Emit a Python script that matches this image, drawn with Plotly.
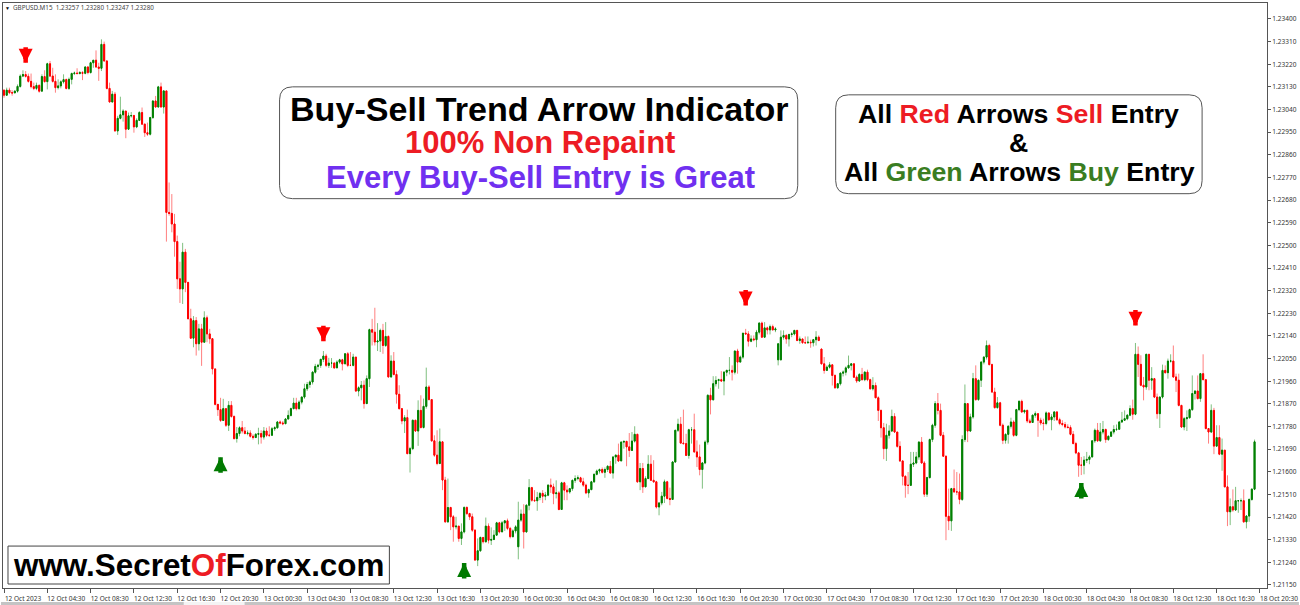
import plotly.graph_objects as go

# ---- data: prices in points above 1.20000 (1 point = 0.00001) ----
closes = [
3097,3117,3107,3106,3113,3132,3173,3179,3172,3152,3131,3124,3136,3113,3171,3151,3222,3173,3152,3127,
3134,3150,3159,3124,3160,3183,3185,3183,3187,3184,3209,3187,3226,3236,3209,3204,3299,3233,3124,3070,
3101,2955,3005,3019,3034,2962,3015,3016,2971,2997,3028,2982,2948,2942,3008,3074,3050,3130,3050,3114,
2631,2627,2585,2515,2367,2327,2473,2353,2208,2131,2201,2109,2168,2115,2212,2148,2129,2009,1868,1847,
1804,1851,1785,1864,1820,1732,1752,1775,1762,1752,1754,1741,1736,1749,1752,1738,1762,1745,1745,1771,
1775,1798,1794,1791,1810,1824,1851,1873,1851,1877,1897,1930,1947,1957,1996,2019,2023,2047,2060,2023,
2032,2032,2013,2036,2045,2029,2069,2023,2023,2056,1921,1934,1944,1871,1970,2165,2155,2116,2120,2162,
2102,2138,1977,2040,1987,1908,1851,1802,1815,1672,1692,1805,1762,1844,1776,1860,1937,1887,1723,1666,
1633,1719,1567,1401,1458,1421,1381,1384,1335,1361,1458,1434,1421,1368,1249,1286,1339,1322,1384,1328,
1331,1348,1397,1361,1397,1405,1375,1342,1365,1381,1408,1432,1361,1467,1537,1487,1485,1498,1514,1503,
1507,1547,1540,1513,1516,1450,1556,1527,1520,1533,1566,1573,1576,1560,1547,1516,1529,1560,1590,1603,
1609,1598,1609,1622,1595,1659,1666,1643,1718,1721,1699,1685,1722,1749,1560,1613,1540,1573,1630,1566,
1560,1460,1476,1503,1560,1494,1490,1639,1765,1789,1714,1712,1665,1767,1767,1679,1659,1609,1635,1718,
1904,1886,1950,1963,1966,1961,1996,2003,2003,1996,2080,2036,2056,2151,2148,2119,2128,2125,2155,2191,
2135,2172,2164,2177,2164,2168,2109,2135,2142,2128,2146,2148,2162,2122,2128,2113,2113,2115,2113,2125,
2135,2122,2029,2003,2016,2025,1983,1934,1950,1992,1996,2013,2023,2029,1976,1961,1987,1966,1996,1966,
1930,1943,1894,1844,1775,1692,1745,1762,1820,1758,1701,1643,1582,1546,1546,1630,1635,1659,1718,1635,
1511,1577,1728,1785,1871,1844,1745,1662,1423,1405,1533,1520,1520,1490,1728,1871,1762,1818,1970,1887,
1964,2036,2056,2102,2026,1917,1855,1874,1785,1725,1749,1781,1798,1745,1847,1880,1838,1844,1802,1796,
1825,1831,1805,1794,1792,1834,1807,1818,1838,1807,1792,1788,1778,1776,1749,1712,1675,1626,1626,1646,
1649,1659,1723,1765,1723,1758,1768,1728,1741,1758,1768,1769,1798,1805,1811,1825,1851,1829,2067,2027,
1944,1937,2067,1964,1970,1897,1831,1897,2003,1994,2040,2040,1977,1964,1864,1778,1811,1815,1847,1911,
1921,1891,1990,1966,1772,1758,1844,1702,1736,1670,1686,1540,1441,1461,1448,1485,1485,1485,1401,1424,
1490,1531,1719]

highs = [
3120,3127,3127,3117,3117,3140,3180,3196,3193,3183,3183,3147,3147,3140,3180,3196,3226,3233,3206,3180,
3160,3156,3180,3163,3167,3187,3191,3204,3193,3193,3213,3213,3230,3236,3275,3226,3319,3310,3236,3147,
3114,3110,3015,3091,3041,3032,3028,3030,3019,3005,3034,3048,2984,2988,3011,3077,3094,3134,3147,3117,
3114,2750,2704,2625,2539,2435,2510,2486,2353,2248,2219,2215,2188,2188,2238,2221,2168,2131,2007,1868,
1894,1890,1851,1881,1881,1824,1778,1781,1802,1778,1765,1765,1749,1754,1775,1765,1778,1775,1781,1778,
1781,1802,1804,1802,1812,1844,1855,1894,1894,1884,1900,1950,1957,1963,2000,2029,2029,2049,2080,2069,
2053,2052,2036,2043,2049,2049,2072,2076,2076,2069,2049,1940,1961,1963,1983,2169,2208,2252,2191,2169,
2188,2195,2142,2063,2076,2003,1944,1851,1825,1847,1699,1807,1802,1884,1904,1891,2014,1944,1887,1745,
1765,1772,1719,1580,1573,1461,1428,1421,1384,1395,1463,1463,1437,1434,1371,1335,1342,1339,1418,1395,
1379,1368,1401,1401,1404,1408,1414,1381,1371,1388,1481,1450,1471,1471,1571,1540,1527,1520,1520,1527,
1520,1550,1573,1553,1566,1523,1560,1560,1546,1536,1569,1586,1586,1580,1576,1553,1533,1564,1593,1609,
1613,1617,1617,1626,1643,1661,1669,1712,1721,1721,1705,1754,1758,1781,1751,1635,1635,1582,1666,1666,
1646,1564,1480,1520,1569,1564,1537,1642,1767,1811,1818,1847,1751,1771,1778,1831,1725,1708,1639,1725,
1908,1934,1980,1980,1970,2000,2000,2006,2056,2023,2082,2089,2062,2151,2168,2159,2142,2142,2164,2195,
2197,2195,2177,2185,2185,2175,2109,2162,2162,2148,2148,2155,2164,2164,2138,2128,2138,2138,2125,2128,
2159,2142,2089,2056,2023,2036,2027,1987,1953,1995,2003,2019,2062,2032,2032,1983,1992,2013,2000,2006,
1970,1976,1955,1900,1847,1794,1791,1785,1847,1833,1758,1721,1646,1586,1599,1679,1679,1679,1722,1738,
1643,1580,1732,1791,1881,1913,1871,1758,1664,1533,1536,1609,1599,1593,1745,1947,1873,1831,1993,2023,
1966,2040,2059,2122,2109,2030,1934,1897,1878,1792,1752,1785,1815,1805,1850,1884,1887,1847,1847,1811,
1827,1840,1818,1815,1811,1840,1831,1829,1840,1840,1815,1805,1798,1789,1785,1762,1719,1679,1659,1662,
1679,1666,1725,1772,1794,1794,1802,1772,1745,1762,1785,1788,1802,1838,1844,1829,1864,1887,2112,2098,
2063,1977,2069,2067,2016,1973,1911,1900,2026,2023,2050,2067,2102,1990,1990,1864,1818,1844,1851,1983,
1924,1983,1993,2067,1966,1774,1868,1854,1785,1785,1732,1683,1586,1494,1530,1540,1487,1494,1530,1428,
1494,1534,1728]

lows = [
3087,3094,3101,3095,3106,3107,3127,3169,3167,3147,3124,3117,3117,3107,3124,3147,3120,3169,3147,3107,
3120,3124,3143,3120,3118,3140,3177,3180,3180,3157,3180,3180,3183,3206,3206,3154,3193,3230,3120,3068,
3068,2952,2939,3001,2992,2926,2959,3008,2948,2966,2995,2979,2931,2935,2937,3003,3048,3048,3048,3024,
2515,2618,2552,2455,2327,2271,2267,2314,2208,2129,2095,2062,2082,2021,2115,2115,2109,1987,1864,1822,
1798,1802,1778,1762,1815,1728,1716,1741,1752,1749,1745,1736,1728,1736,1709,1712,1728,1738,1738,1758,
1762,1771,1789,1785,1794,1807,1820,1848,1844,1847,1868,1890,1921,1934,1947,1990,2005,2013,2036,2016,
2013,2013,2009,2019,2029,2003,2040,2016,2020,2019,1917,1900,1884,1851,1871,1937,2102,2102,2080,2076,
2069,2096,1974,1974,1983,1871,1847,1789,1754,1670,1597,1686,1758,1703,1772,1772,1851,1884,1719,1659,
1626,1630,1527,1397,1397,1368,1322,1371,1322,1309,1355,1428,1408,1361,1246,1225,1282,1315,1318,1315,
1309,1328,1348,1355,1361,1365,1368,1335,1339,1355,1252,1401,1295,1358,1447,1481,1481,1445,1487,1476,
1487,1503,1516,1471,1494,1447,1524,1487,1487,1513,1524,1556,1566,1556,1540,1511,1497,1527,1556,1586,
1593,1593,1576,1599,1593,1573,1632,1639,1643,1692,1622,1659,1683,1716,1556,1527,1516,1564,1576,1564,
1556,1454,1427,1467,1476,1490,1467,1490,1635,1758,1712,1709,1663,1652,1712,1675,1619,1586,1533,1630,
1708,1828,1884,1939,1930,1957,1904,1980,1987,1963,1987,1990,2036,2049,2146,2098,2115,2119,2095,2146,
2133,2135,2146,2146,2162,2155,2023,2043,2125,2109,2098,2135,2142,2119,2109,2109,2109,2109,2093,2098,
2102,2119,2027,1990,2003,2010,1943,1930,1930,1943,1979,1983,2010,2003,1974,1953,1957,1963,1960,1960,
1926,1923,1894,1802,1736,1650,1643,1732,1758,1754,1696,1639,1546,1497,1511,1544,1619,1630,1648,1632,
1500,1500,1573,1718,1775,1828,1741,1659,1328,1368,1365,1516,1507,1471,1484,1718,1718,1758,1811,1882,
1882,1937,2027,2046,2023,1913,1851,1851,1781,1710,1712,1712,1772,1739,1741,1841,1834,1831,1794,1792,
1794,1815,1739,1785,1765,1785,1802,1765,1802,1802,1785,1781,1772,1772,1745,1710,1670,1580,1587,1590,
1635,1630,1657,1715,1719,1719,1749,1715,1723,1739,1749,1762,1768,1794,1802,1805,1821,1807,1825,1977,
1940,1884,1926,1924,1926,1893,1811,1774,1891,1990,1970,2034,1973,1917,1860,1774,1765,1762,1811,1842,
1887,1887,1878,1964,1768,1712,1754,1670,1699,1666,1604,1538,1384,1388,1441,1445,1437,1448,1397,1375,
1401,1485,1527]

# bars whose open does not sit at the previous close (session gaps and the first bar)
open_exceptions = {0: 3117, 190: 1302, 286: 2045, 287: 2045, 302: 2088}

time_labels = [
"12 Oct 2023", "12 Oct 04:30", "12 Oct 08:30", "12 Oct 12:30", "12 Oct 16:30", "12 Oct 20:30",
"13 Oct 00:30", "13 Oct 04:30", "13 Oct 08:30", "13 Oct 12:30", "13 Oct 16:30", "13 Oct 20:30",
"16 Oct 00:30", "16 Oct 04:30", "16 Oct 08:30", "16 Oct 12:30", "16 Oct 16:30", "16 Oct 20:30",
"17 Oct 00:30", "17 Oct 04:30", "17 Oct 08:30", "17 Oct 12:30", "17 Oct 16:30", "17 Oct 20:30",
"18 Oct 00:30", "18 Oct 04:30", "18 Oct 08:30", "18 Oct 12:30", "18 Oct 16:30", "18 Oct 20:30"]
price_ticks = [1.23400, 1.23310, 1.23220, 1.23130, 1.23040, 1.22950, 1.22860, 1.22770, 1.22680,
               1.22590, 1.22500, 1.22410, 1.22320, 1.22230, 1.22140, 1.22050, 1.21960, 1.21870,
               1.21780, 1.21690, 1.21600, 1.21510, 1.21420, 1.21330, 1.21240, 1.21150]

sell_bars = [8, 118, 274, 418]
sell_prices = [1.23226, 1.22119, 1.22261, 1.22181]
buy_bars = [80, 170, 398]
buy_prices = [1.21658, 1.21237, 1.21555]

header = "GBPUSD.M15  1.23257 1.23280 1.23247 1.23280"
title_lines = ["Buy-Sell Trend Arrow Indicator", "100% Non Repaint", "Every Buy-Sell Entry is Great"]

assert len(closes) == len(highs) == len(lows) == 463

# ---- derived series ----
opens = [open_exceptions.get(i, closes[i - 1] if i else closes[0]) for i in range(len(closes))]
to_price = lambda v: [1.2 + p / 100000 for p in v]
x = list(range(len(closes)))
o, c = to_price(opens), to_price(closes)
h = [max(a, b, d) for a, b, d in zip(to_price(highs), o, c)]
l = [min(a, b, d) for a, b, d in zip(to_price(lows), o, c)]
body_top = [max(a, b) for a, b in zip(o, c)]
body_bot = [min(a, b) for a, b in zip(o, c)]

RED, GREEN = "#ff0000", "#008000"
WIN_W, WIN_H = 1300, 605
PL, PR, PT, PB = 2, 1268, 2, 588
px = lambda v: (v - PL) / (PR - PL)
py = lambda v: 1 - (v - PT) / (PB - PT)

fig = go.Figure()
# pale wicks
fig.add_trace(go.Candlestick(
    x=x, open=o, high=h, low=l, close=c, whiskerwidth=0, hoverinfo="skip", showlegend=False,
    increasing=dict(line=dict(color="rgba(0,128,0,0.5)", width=1), fillcolor="rgba(0,128,0,0.5)"),
    decreasing=dict(line=dict(color="rgba(255,0,0,0.5)", width=1), fillcolor="rgba(255,0,0,0.5)")))
# solid bodies
fig.add_trace(go.Candlestick(
    x=x, open=o, high=body_top, low=body_bot, close=c, whiskerwidth=0, hoverinfo="skip", showlegend=False,
    increasing=dict(line=dict(color=GREEN, width=1), fillcolor=GREEN),
    decreasing=dict(line=dict(color=RED, width=1), fillcolor=RED)))


def arrow(bar, price, color, tail):
    """Head plus a separate shaft, so the head does not swallow the short shaft."""
    base = dict(x=bar, y=price, xref="x", yref="y", text="", showarrow=True, ax=0, arrowcolor=color)
    head = dict(base, ay=tail * 0.62, arrowhead=2, arrowsize=0.62, arrowwidth=4.5)
    shaft = dict(base, ay=tail, arrowhead=0, arrowwidth=4.5)
    return [head, shaft]


def rounded(x0, y0, x1, y1, r):
    X0, X1, Y0, Y1 = px(x0), px(x1), py(y0), py(y1)
    rx, ry = r / (PR - PL), r / (PB - PT)
    return (f"M {X0 + rx} {Y0} L {X1 - rx} {Y0} Q {X1} {Y0} {X1} {Y0 - ry} "
            f"L {X1} {Y1 + ry} Q {X1} {Y1} {X1 - rx} {Y1} L {X0 + rx} {Y1} "
            f"Q {X0} {Y1} {X0} {Y1 + ry} L {X0} {Y0 - ry} Q {X0} {Y0} {X0 + rx} {Y0} Z")


def label(text, cx, cy, size, color="#000000", bold=True, anchor="center", family="Liberation Sans"):
    t = f"<b>{text}</b>" if bold else text
    return dict(x=px(cx), y=py(cy), xref="paper", yref="paper", text=t, showarrow=False,
                xanchor=anchor, yanchor="middle", font=dict(family=family, size=size, color=color))


SRED, SGREEN = "#ed1c24", "#3a7d22"
span = lambda s, col: f'<span style="color:{col}">{s}</span>'

annotations = []
for b, p in zip(sell_bars, sell_prices):
    annotations += arrow(b, p, RED, -17)
for b, p in zip(buy_bars, buy_prices):
    annotations += arrow(b, p, "#007a00", 17)
annotations += [
    label(title_lines[0], 539, 108, 34.1),
    label(title_lines[1], 540, 142, 31, color=SRED),
    label(title_lines[2], 540, 177, 31, color="#7030f0"),
    label(f"All {span('Red', SRED)} Arrows {span('Sell', SRED)} Entry", 1019, 113, 26.7),
    label("&amp;", 1019, 142, 26.7),
    label(f"All {span('Green', SGREEN)} Arrows {span('Buy', SGREEN)} Entry", 1020, 171, 26.7),
    label(f"www.Secret{span('Of', SRED)}Forex.com", 198, 565, 31.4),
    label(header, 10, 7, 6.3, color="#444444", bold=False, anchor="left", family="Noto Sans"),
    label("▼", 7, 7, 5, color="#000000", bold=False),
]

shapes = [
    dict(type="path", xref="paper", yref="paper", path=rounded(279, 86, 798, 198, 13),
         line=dict(color="#555555", width=1), fillcolor="#ffffff", layer="above"),
    dict(type="path", xref="paper", yref="paper", path=rounded(836, 94, 1203, 193, 13),
         line=dict(color="#555555", width=1), fillcolor="#ffffff", layer="above"),
    dict(type="rect", xref="paper", yref="paper", x0=px(7), x1=px(389), y0=py(546), y1=py(584),
         line=dict(color="#444444", width=1), fillcolor="#ffffff", layer="above"),
    # terminal tab strip under the chart
    dict(type="rect", xref="paper", yref="paper", x0=px(0), x1=px(1300), y0=py(602), y1=py(605),
         line=dict(width=0), fillcolor="#c4c4c4", layer="above"),
    dict(type="rect", xref="paper", yref="paper", x0=px(183), x1=px(244), y0=py(602), y1=py(605),
         line=dict(width=0), fillcolor="#f4f4f4", layer="above"),
]

AXIS = "#555555"
tick_font = dict(family="Noto Sans", size=6.5, color="#333333")
fig.update_layout(
    width=WIN_W, height=WIN_H, autosize=False,
    margin=dict(l=PL, r=WIN_W - PR, t=PT, b=WIN_H - PB, pad=0),
    paper_bgcolor="#ffffff", plot_bgcolor="#ffffff", showlegend=False, boxgap=0.45,
    annotations=annotations, shapes=shapes,
    xaxis=dict(range=[-0.37, 466.6], rangeslider=dict(visible=False), showgrid=False, zeroline=False,
               tickmode="array", tickvals=[i * 16 for i in range(len(time_labels))], ticktext=time_labels,
               ticks="outside", ticklen=4, tickcolor=AXIS, tickwidth=1, tickangle=0,
               ticklabelshift=19, ticklabelstandoff=0, ticklabeloverflow="allow", showline=True,
               linecolor=AXIS, linewidth=1, mirror=True, tickfont=tick_font),
    yaxis=dict(range=[1.21138, 1.234635], side="right", showgrid=False, zeroline=False,
               tickmode="array", tickvals=price_ticks, tickformat=".5f",
               ticks="outside", ticklen=3, tickcolor=AXIS, tickwidth=1, showline=True,
               linecolor=AXIS, linewidth=1, mirror=True, tickfont=tick_font),
)

fig.write_html("out.html", config=dict(displayModeBar=False),
               post_script="document.body.style.margin='0';document.body.style.overflow='hidden';")
